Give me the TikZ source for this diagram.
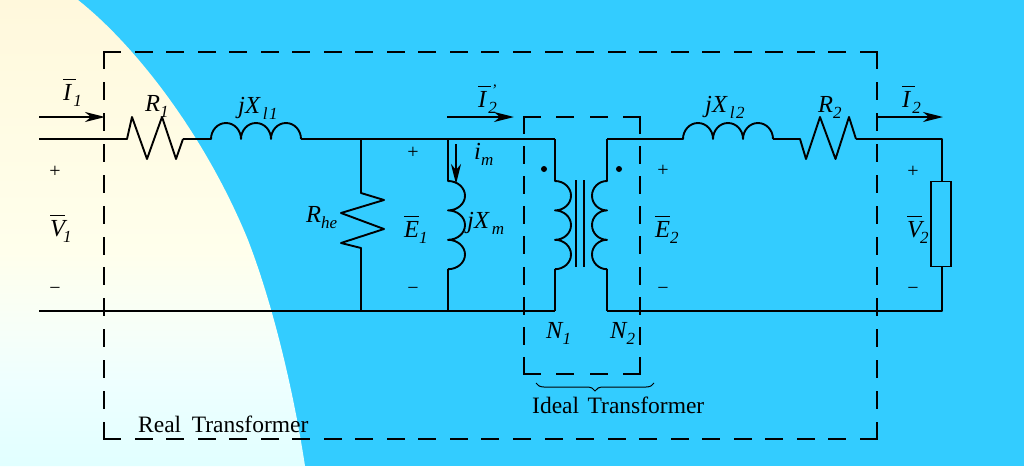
\documentclass[tikz,border=0pt]{standalone}
\usepackage{fontspec}
\setmainfont{Liberation Serif}
\usetikzlibrary{positioning,arrows.meta,decorations.pathreplacing}

\definecolor{backblue}{RGB}{51,204,255}
\definecolor{creamtop}{RGB}{255,248,220}
\definecolor{creammid}{RGB}{255,255,236}
\definecolor{creamlow}{RGB}{247,255,248}
\definecolor{creamblue}{RGB}{238,255,255}
\definecolor{creambot}{RGB}{225,255,255}
\pgfdeclareverticalshading{leftglow}{100bp}{color(0bp)=(creambot); color(25bp)=(creambot); color(34bp)=(creamblue); color(40bp)=(creamlow); color(48bp)=(creammid); color(75bp)=(creamtop); color(100bp)=(creamtop)}

\newcommand{\widegap}{\spaceskip=10.5pt\relax}
\tikzset{
  wire/.style={line width=1.9pt,line join=round},
  flow/.style={line width=1.9pt,-{Stealth[length=20pt,width=10pt,inset=6pt]}},
  dashbox/.style={line width=2pt,line cap=rect,dash pattern=on 16pt off #1},
  lab/.style={anchor=base west,inner sep=0pt,font=\fontsize{24.5}{24.5}\selectfont\itshape},
  sign/.style={inner sep=0pt,font=\fontsize{20}{20}\selectfont},
  caption/.style={anchor=base west,inner sep=0pt,font=\fontsize{23.5}{23.5}\selectfont\widegap}
}
\newcommand{\sbs}[1]{\raisebox{-6pt}{\fontsize{17}{17}\selectfont #1}}
\newcommand{\brr}[2][13pt]{\rlap{\raisebox{20pt}{\rule{#1}{1.4pt}}}#2}

\begin{document}
\begin{tikzpicture}[x=1pt,y=-1pt]
  \useasboundingbox (0,0) rectangle (1024,466);
  \fill[backblue] (0,0) rectangle (1024,466);
  \shade[shading=leftglow]
    (0,0) -- (78,0) .. controls (135,45) and (205,135) .. (248,240)
    .. controls (275,310) and (295,400) .. (305,466) -- (0,466) -- cycle;

  % left port and series branch
  \coordinate (p1) at (39,139);
  \coordinate (q1) at (39,311);
  \coordinate [right=88pt of p1] (r1a);
  \coordinate [right=56pt of r1a] (r1b);
  \coordinate [right=28pt of r1b] (x1a);
  \coordinate [right=90pt of x1a] (x1b);
  \coordinate (t1) at (361,139);
  \coordinate (t2) at (448,139);
  \coordinate (t3) at (555,139);
  \coordinate (b1) at (361,311);
  \coordinate (b2) at (448,311);
  \coordinate (b3) at (555,311);
  \draw[wire] (p1) -- (r1a) -- ++(5,-22) -- ++(15,42) -- ++(15,-42) -- ++(14,42) -- (r1b);
  \draw[wire] (r1b) -- (x1a)
    arc[start angle=180,end angle=360,x radius=15,y radius=16] -- ++(0,-5) -- ++(0,5)
    arc[start angle=180,end angle=360,x radius=15,y radius=16] -- ++(0,-5) -- ++(0,5)
    arc[start angle=180,end angle=360,x radius=15,y radius=16];
  \draw[wire] (x1b) -- (t1) -- (t2) -- (t3);
  \draw[wire] (q1) -- (b1) -- (b2) -- (b3);

  % shunt branches
  \draw[wire] (t1) -- ++(0,54) -- ++(23,7) -- ++(-43,13) -- ++(43,16) -- ++(-43,14) -- ++(20,5) -- (b1);
  \coordinate [below=42pt of t2] (xma);
  \coordinate [above=42pt of b2] (xmb);
  \draw[wire] (t2) -- (xma)
    arc[start angle=-90,end angle=90,x radius=17,y radius=14.7] -- ++(5,0) -- ++(-5,0)
    arc[start angle=-90,end angle=90,x radius=17,y radius=14.7] -- ++(5,0) -- ++(-5,0)
    arc[start angle=-90,end angle=90,x radius=17,y radius=14.7];
  \draw[wire] (xmb) -- (b2);

  % ideal transformer
  \coordinate [below=42pt of t3] (n1a);
  \coordinate [above=42pt of b3] (n1b);
  \draw[wire] (t3) -- (n1a)
    arc[start angle=-90,end angle=90,x radius=16,y radius=14.7] -- ++(5,0) -- ++(-5,0)
    arc[start angle=-90,end angle=90,x radius=16,y radius=14.7] -- ++(5,0) -- ++(-5,0)
    arc[start angle=-90,end angle=90,x radius=16,y radius=14.7];
  \draw[wire] (n1b) -- (b3);
  \coordinate (t4) at (607,139);
  \coordinate (b4) at (607,311);
  \coordinate [below=42pt of t4] (n2a);
  \coordinate [above=42pt of b4] (n2b);
  \draw[wire] (t4) -- (n2a)
    arc[start angle=270,end angle=90,x radius=15,y radius=14.7] -- ++(-5,0) -- ++(5,0)
    arc[start angle=270,end angle=90,x radius=15,y radius=14.7] -- ++(-5,0) -- ++(5,0)
    arc[start angle=270,end angle=90,x radius=15,y radius=14.7];
  \draw[wire] (n2b) -- (b4);
  \coordinate (c1a) at (576,180);
  \coordinate (c1b) at (576,267);
  \coordinate (c2a) at (584,180);
  \coordinate (c2b) at (584,267);
  \draw[wire] (c1a) -- (c1b);
  \draw[wire] (c2a) -- (c2b);
  \node[circle,fill,inner sep=0pt,minimum size=6pt] (dot1) at (544,169) {};
  \node[circle,fill,inner sep=0pt,minimum size=6pt] (dot2) at (619,169) {};

  % secondary side
  \coordinate [right=76pt of t4] (x2a);
  \coordinate [right=90pt of x2a] (x2b);
  \coordinate [right=27pt of x2b] (r2a);
  \coordinate [right=56pt of r2a] (r2b);
  \coordinate (ur) at (942,139);
  \coordinate (lr) at (942,311);
  \draw[wire] (t4) -- (x2a)
    arc[start angle=180,end angle=360,x radius=15,y radius=16] -- ++(0,-5) -- ++(0,5)
    arc[start angle=180,end angle=360,x radius=15,y radius=16] -- ++(0,-5) -- ++(0,5)
    arc[start angle=180,end angle=360,x radius=15,y radius=16];
  \draw[wire] (x2b) -- (r2a) -- ++(6,20) -- ++(14,-42) -- ++(15.5,42) -- ++(13.5,-42) -- (r2b);
  \node[draw,line width=1.9pt,inner sep=0pt,minimum width=20pt,minimum height=85pt] (load) at (941,224) {};
  \draw[wire] (r2b) -- (ur) -- (ur |- load.north);
  \draw[wire] (lr |- load.south) -- (lr) -- (b4);

  % currents
  \coordinate (i1a) at (39,117);
  \coordinate (i1b) at (105,117);
  \coordinate (i2a) at (447,117);
  \coordinate (i2b) at (514,117);
  \coordinate (i3a) at (877,117);
  \coordinate (i3b) at (943,117);
  \coordinate (ima) at (456,144);
  \coordinate (imb) at (456,184);
  \draw[flow] (i1a) -- (i1b);
  \draw[flow] (i2a) -- (i2b);
  \draw[flow] (i3a) -- (i3b);
  \draw[flow] (ima) -- (imb);

  % dashed boxes
  \coordinate (ra) at (104,52);
  \coordinate (rb) at (877,52);
  \coordinate (rc) at (877,439);
  \coordinate (rd) at (104,439);
  \draw[dashbox=15.54pt] (ra) -- (rb);
  \draw[dashbox=15.54pt] (rd) -- (rc);
  \draw[dashbox=14.92pt] (ra) -- (rd);
  \draw[dashbox=14.92pt] (rb) -- (rc);
  \coordinate (ia) at (524,117);
  \coordinate (ib) at (640,117);
  \coordinate (ic) at (640,374);
  \coordinate (id) at (524,374);
  \draw[dashbox=17.33pt] (ia) -- (ib);
  \draw[dashbox=17.33pt] (id) -- (ic);
  \draw[dashbox=14.12pt] (ia) -- (id);
  \draw[dashbox=14.12pt] (ib) -- (ic);
  \coordinate (bra) at (536,383);
  \coordinate (brb) at (654,383);
  \draw[line width=1pt,decorate,decoration={brace,mirror,amplitude=8pt}] (bra) -- (brb);

  % labels
  \node[lab] (li1) at (63,100) {\brr{I}\kern2pt\sbs{1}};
  \node[lab] (lr1) at (145,111) {R\sbs{1}};
  \node[lab] (lx1) at (238,113) {jX\kern3pt\sbs{l\kern1.5pt1}};
  \node[lab] (lv1) at (50,236) {\brr[15pt]{V}\kern-2pt\sbs{1}};
  \node[lab] (lrh) at (306,222) {R\sbs{he}};
  \node[lab] (le1) at (404,237) {\brr[15pt]{E}\sbs{1}};
  \node[lab] (lim) at (474,159) {i\sbs{m}};
  \node[lab] (lxm) at (467,228) {jX\kern3pt\sbs{m}};
  \node[lab] (li2) at (478,107) {\brr{I}\kern2pt\sbs{2}};
  \node[lab] (lpr) at (491,95) {\fontsize{16}{16}\selectfont'};
  \node[lab] (le2) at (655,237) {\brr[15pt]{E}\sbs{2}};
  \node[lab] (lx2) at (705,112) {jX\kern3pt\sbs{l\kern1.5pt2}};
  \node[lab] (lr2) at (818,112) {R\sbs{2}};
  \node[lab] (li3) at (902,107) {\brr{I}\kern2pt\sbs{2}};
  \node[lab] (lv2) at (907,237) {\brr[15pt]{V}\kern-2pt\sbs{2}};
  \node[lab] (ln1) at (546,338) {N\sbs{1}};
  \node[lab] (ln2) at (610,338) {N\sbs{2}};
  \node[sign] (s1) at (55,172) {+};
  \node[sign] (s2) at (55,291) {−};
  \node[sign] (s3) at (413,153) {+};
  \node[sign] (s4) at (413,291) {−};
  \node[sign] (s5) at (663,171) {+};
  \node[sign] (s6) at (663,291) {−};
  \node[sign] (s7) at (913,172) {+};
  \node[sign] (s8) at (913,291) {−};
  \node[caption] (real) at (138,432) {Real Transformer};
  \node[caption] (ideal) at (532,413) {{\spaceskip=8.5pt\relax Ideal Transformer}};
\end{tikzpicture}
\end{document}
